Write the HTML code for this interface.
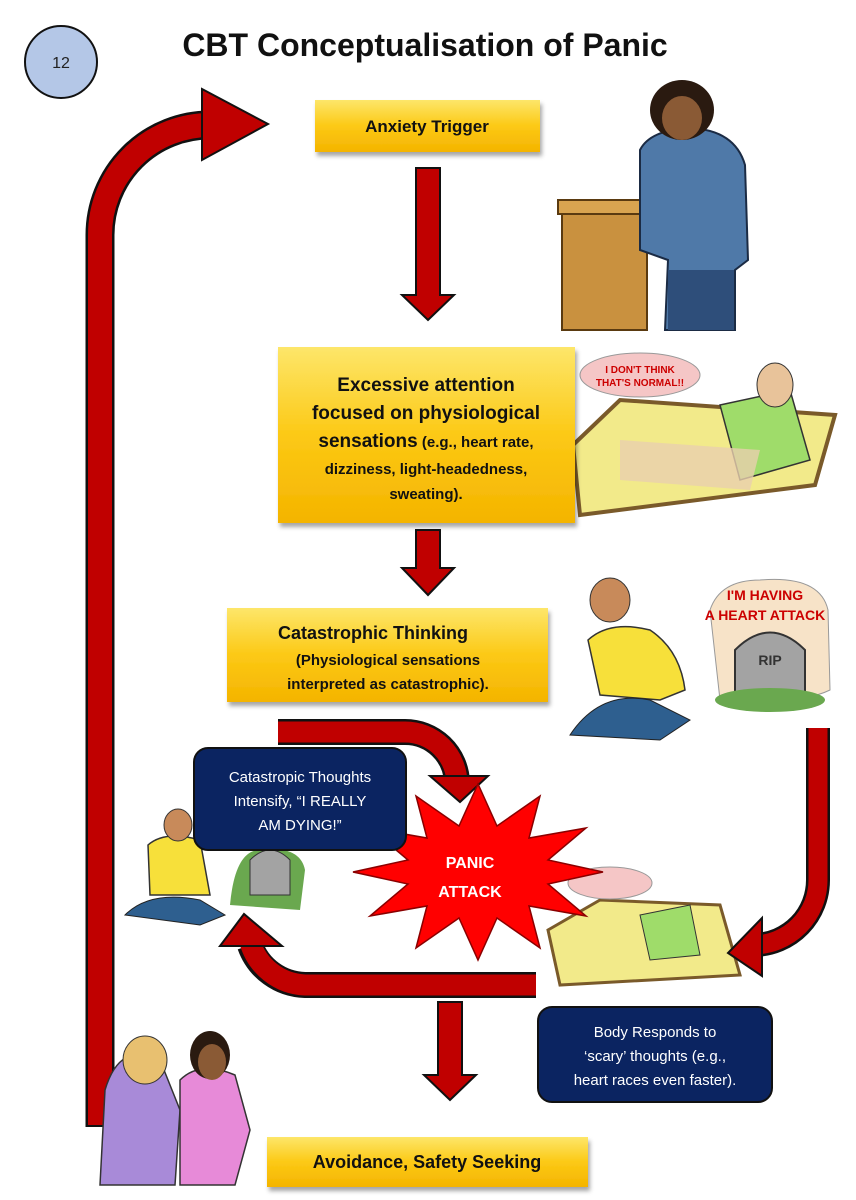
<!DOCTYPE html>
<html><head><meta charset="utf-8"><style>
html,body{margin:0;padding:0;background:#fff;}
svg{display:block;font-family:"Liberation Sans",sans-serif;}
</style></head><body>
<svg width="856" height="1200" viewBox="0 0 856 1200" xmlns="http://www.w3.org/2000/svg">
<defs>
<linearGradient id="g" x1="0" y1="0" x2="0" y2="1">
<stop offset="0" stop-color="#fde66a"/><stop offset="0.5" stop-color="#fcc915"/><stop offset="1" stop-color="#f4b400"/>
</linearGradient>
<filter id="sh" x="-10%" y="-10%" width="130%" height="130%"><feDropShadow dx="2" dy="4" stdDeviation="2" flood-color="#000" flood-opacity="0.35"/></filter>
</defs>

<circle cx="61" cy="62" r="36" fill="#b4c7e7" stroke="#111" stroke-width="2"/>
<text x="61" y="68" font-size="16" text-anchor="middle" fill="#222">12</text>
<text x="425" y="56" font-size="32" font-weight="bold" text-anchor="middle" fill="#111">CBT Conceptualisation of Panic</text>

<path d="M100,1127 V235 A110,110 0 0 1 210,125" fill="none" stroke="#111" stroke-width="29"/>
<path d="M100,1125 V235 A110,110 0 0 1 212,125" fill="none" stroke="#c00000" stroke-width="24"/>
<polygon points="202,89 268,124 202,160" fill="#c00000" stroke="#111" stroke-width="2"/>

<g>
<rect x="562" y="205" width="85" height="125" fill="#c9913f" stroke="#5a3a10" stroke-width="2"/>
<rect x="558" y="200" width="100" height="14" fill="#d9a450" stroke="#5a3a10" stroke-width="2"/>
<path d="M640,150 Q650,130 690,128 Q735,130 745,165 L748,260 L735,270 L735,330 L665,330 L668,260 L640,250 Z" fill="#4f79a8" stroke="#1b2b44" stroke-width="2"/>
<ellipse cx="682" cy="110" rx="32" ry="30" fill="#2a1a10"/>
<ellipse cx="682" cy="118" rx="20" ry="22" fill="#8a5a35"/>
<rect x="668" y="270" width="66" height="60" fill="#2e4e7a"/>
</g>
<g>
<path d="M573,445 L620,400 L835,415 L815,485 L580,515 Z" fill="#f2ea8a" stroke="#7a5a2a" stroke-width="4"/>
<path d="M720,405 L790,390 L810,460 L740,480 Z" fill="#9fdc6a" stroke="#333" stroke-width="1.5"/>
<ellipse cx="775" cy="385" rx="18" ry="22" fill="#e8c39a" stroke="#333"/>
<path d="M620,440 L760,450 L750,490 L620,480 Z" fill="#e9cfae" opacity="0.8"/>
<ellipse cx="640" cy="375" rx="60" ry="22" fill="#f5c6c6" stroke="#999"/>
<text x="640" y="373" font-size="10" font-weight="bold" text-anchor="middle" fill="#c00">I DON'T THINK</text>
<text x="640" y="386" font-size="10" font-weight="bold" text-anchor="middle" fill="#c00">THAT'S NORMAL!!</text>
</g>
<g>
<path d="M710,610 Q720,580 760,580 Q820,575 828,610 L830,690 Q800,705 720,700 Z" fill="#f7e3c8" stroke="#999"/>
<text x="765" y="600" font-size="14" font-weight="bold" text-anchor="middle" fill="#c00">I'M HAVING</text>
<text x="765" y="620" font-size="14" font-weight="bold" text-anchor="middle" fill="#c00">A HEART ATTACK</text>
<path d="M735,700 V650 Q770,615 805,650 V700 Z" fill="#a3a3a3" stroke="#333" stroke-width="2"/>
<text x="770" y="665" font-size="14" font-weight="bold" text-anchor="middle" fill="#333">RIP</text>
<ellipse cx="770" cy="700" rx="55" ry="12" fill="#6aa84f"/>
<path d="M588,640 Q610,620 650,630 Q680,650 685,690 L660,700 L600,695 Z" fill="#f7e03a" stroke="#333" stroke-width="1.5"/>
<ellipse cx="610" cy="600" rx="20" ry="22" fill="#c88a5a" stroke="#333"/>
<path d="M570,735 Q600,690 650,700 L690,720 L660,740 Z" fill="#2e5f8f" stroke="#222"/>
</g>
<g>
<path d="M148,845 Q165,830 200,840 L210,895 L150,895 Z" fill="#f7e03a" stroke="#333" stroke-width="1.5"/>
<ellipse cx="178" cy="825" rx="14" ry="16" fill="#c88a5a" stroke="#333"/>
<path d="M125,915 Q150,890 200,900 L225,915 L200,925 Z" fill="#2e5f8f" stroke="#222"/>
<path d="M230,905 Q235,850 260,850 Q300,845 305,870 L300,910 Z" fill="#6aa84f"/>
<path d="M250,895 V860 Q270,840 290,860 V895 Z" fill="#a3a3a3" stroke="#333"/>
</g>
<g>
<path d="M548,930 L600,900 L720,905 L740,975 L560,985 Z" fill="#f2ea8a" stroke="#7a5a2a" stroke-width="3"/>
<path d="M640,915 L690,905 L700,955 L650,960 Z" fill="#9fdc6a" stroke="#333"/>
<ellipse cx="610" cy="883" rx="42" ry="16" fill="#f5c6c6" stroke="#999"/>
</g>
<g>
<path d="M105,1090 Q120,1040 160,1060 L180,1110 L175,1185 L100,1185 Z" fill="#a88ad8" stroke="#333" stroke-width="1.5"/>
<ellipse cx="145" cy="1060" rx="22" ry="24" fill="#e8c070" stroke="#333"/>
<path d="M180,1080 Q200,1060 235,1075 L250,1130 L235,1185 L180,1185 Z" fill="#e78ad8" stroke="#333" stroke-width="1.5"/>
<ellipse cx="210" cy="1055" rx="20" ry="24" fill="#2a1a10"/>
<ellipse cx="212" cy="1062" rx="14" ry="18" fill="#8a5a35"/>
</g>

<rect x="315" y="100" width="225" height="52" fill="url(#g)" filter="url(#sh)"/>
<text x="427" y="132" font-size="17" font-weight="bold" text-anchor="middle" fill="#111">Anxiety Trigger</text>

<polygon points="416,168 440,168 440,295 454,295 428,320 402,295 416,295" fill="#c00000" stroke="#111" stroke-width="2"/>

<rect x="278" y="347" width="297" height="176" fill="url(#g)" filter="url(#sh)"/>
<g font-weight="bold" text-anchor="middle" fill="#111">
<text x="426" y="391" font-size="19">Excessive attention</text>
<text x="426" y="419" font-size="19">focused on physiological</text>
<text x="426" y="447"><tspan font-size="19">sensations</tspan><tspan font-size="15"> (e.g., heart rate,</tspan></text>
<text x="426" y="474" font-size="15">dizziness, light-headedness,</text>
<text x="426" y="499" font-size="15">sweating).</text>
</g>

<polygon points="416,530 440,530 440,568 454,568 428,595 402,568 416,568" fill="#c00000" stroke="#111" stroke-width="2"/>

<rect x="227" y="608" width="321" height="94" fill="url(#g)" filter="url(#sh)"/>
<g font-weight="bold" text-anchor="middle" fill="#111">
<text x="373" y="639" font-size="18">Catastrophic Thinking</text>
<text x="388" y="665" font-size="15">(Physiological sensations</text>
<text x="388" y="689" font-size="15">interpreted as catastrophic).</text>
</g>

<path d="M278,732 H405 A52,52 0 0 1 457,782" fill="none" stroke="#111" stroke-width="26"/>
<path d="M278,732 H405 A52,52 0 0 1 457,784" fill="none" stroke="#c00000" stroke-width="21"/>
<polygon points="430,776 488,776 460,802" fill="#c00000" stroke="#111" stroke-width="2"/>

<path d="M818,728 V880 A65,65 0 0 1 755,945" fill="none" stroke="#111" stroke-width="24"/>
<path d="M818,728 V880 A65,65 0 0 1 753,945" fill="none" stroke="#c00000" stroke-width="19"/>
<polygon points="762,918 762,976 728,953" fill="#c00000" stroke="#111" stroke-width="2"/>

<path d="M536,985 H305 A60,60 0 0 1 250,945" fill="none" stroke="#111" stroke-width="26"/>
<path d="M536,985 H305 A60,60 0 0 1 250,942" fill="none" stroke="#c00000" stroke-width="21"/>
<polygon points="220,946 282,946 244,914" fill="#c00000" stroke="#111" stroke-width="2"/>

<polygon points="603,872 548,884 586,916 529,906 540,948 497,918 478,960 459,918 416,948 427,906 370,916 408,884 353,872 408,860 370,828 427,838 416,796 459,826 478,784 497,826 540,796 529,838 586,828 548,860" fill="#ff0000" stroke="#8a0000" stroke-width="1.5"/>
<text x="470" y="868" font-size="16" font-weight="bold" text-anchor="middle" fill="#fff">PANIC</text>
<text x="470" y="897" font-size="16" font-weight="bold" text-anchor="middle" fill="#fff">ATTACK</text>

<polygon points="438,1002 462,1002 462,1075 476,1075 450,1100 424,1075 438,1075" fill="#c00000" stroke="#111" stroke-width="2"/>

<rect x="194" y="748" width="212" height="102" rx="14" fill="#0b2461" stroke="#111" stroke-width="2"/>
<g font-size="15" text-anchor="middle" fill="#fff">
<text x="300" y="782">Catastropic Thoughts</text>
<text x="300" y="806">Intensify, “I REALLY</text>
<text x="300" y="830">AM DYING!”</text>
</g>
<rect x="538" y="1007" width="234" height="95" rx="14" fill="#0b2461" stroke="#111" stroke-width="2"/>
<g font-size="15" text-anchor="middle" fill="#fff">
<text x="655" y="1037">Body Responds to</text>
<text x="655" y="1061">‘scary’ thoughts (e.g.,</text>
<text x="655" y="1085">heart races even faster).</text>
</g>

<rect x="267" y="1137" width="321" height="50" fill="url(#g)" filter="url(#sh)"/>
<text x="427" y="1168" font-size="18" font-weight="bold" text-anchor="middle" fill="#111">Avoidance, Safety Seeking</text>
</svg>
</body></html>
